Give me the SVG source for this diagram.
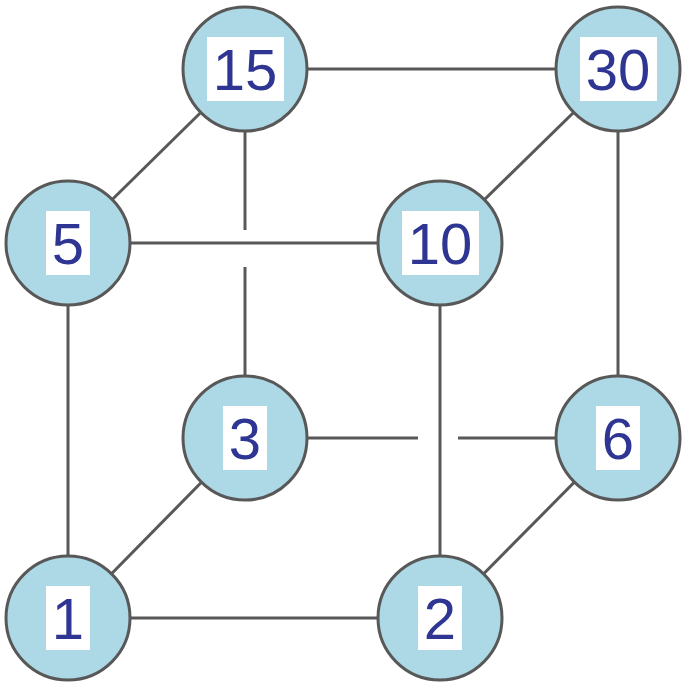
<svg xmlns="http://www.w3.org/2000/svg" width="685" height="685" viewBox="0 0 685 685">
<style>
.e{stroke:#585858;stroke-width:3;fill:none}
.c{fill:#ADD8E6;stroke:#585858;stroke-width:3}
.b{fill:#fff}
.t{font-family:"Liberation Sans",Arial,sans-serif;font-size:58px;fill:#2E3592;text-anchor:middle}
</style>
<rect width="685" height="685" fill="#fff"/>
<g id="edges">
<line class="e" x1="245" y1="69" x2="618" y2="69"/>
<line class="e" x1="68" y1="243" x2="440" y2="243"/>
<line class="e" x1="245" y1="69" x2="68" y2="243"/>
<line class="e" x1="618" y1="69" x2="440" y2="243"/>
<line class="e" x1="618" y1="69" x2="618" y2="435"/>
<line class="e" x1="68" y1="243" x2="68" y2="618"/>
<line class="e" x1="440" y1="243" x2="440" y2="618"/>
<line class="e" x1="245" y1="69" x2="245" y2="230"/>
<line class="e" x1="245" y1="267" x2="245" y2="435"/>
<line class="e" x1="245" y1="438" x2="418" y2="438"/>
<line class="e" x1="458" y1="438" x2="618" y2="438"/>
<line class="e" x1="68" y1="618" x2="440" y2="618"/>
<line class="e" x1="245" y1="438" x2="68" y2="618"/>
<line class="e" x1="618" y1="438" x2="440" y2="618"/>
</g>
<g id="n15"><circle class="c" cx="245" cy="69" r="62"/><rect class="b" x="207" y="37" width="77" height="64"/><text class="t" x="245" y="90">15</text></g>
<g id="n30"><circle class="c" cx="618" cy="69" r="62"/><rect class="b" x="580" y="37" width="77" height="64"/><text class="t" x="618" y="90">30</text></g>
<g id="n5"><circle class="c" cx="68" cy="243" r="62"/><rect class="b" x="46" y="211" width="44" height="64"/><text class="t" x="68" y="264">5</text></g>
<g id="n10"><circle class="c" cx="440" cy="243" r="62"/><rect class="b" x="402" y="211" width="77" height="64"/><text class="t" x="440" y="264">10</text></g>
<g id="n3"><circle class="c" cx="245" cy="438" r="62"/><rect class="b" x="223" y="406" width="44" height="64"/><text class="t" x="245" y="459">3</text></g>
<g id="n6"><circle class="c" cx="618" cy="438" r="62"/><rect class="b" x="596" y="406" width="44" height="64"/><text class="t" x="618" y="459">6</text></g>
<g id="n1"><circle class="c" cx="68" cy="618" r="62"/><rect class="b" x="46" y="586" width="44" height="64"/><text class="t" x="68" y="639">1</text></g>
<g id="n2"><circle class="c" cx="440" cy="618" r="62"/><rect class="b" x="418" y="586" width="44" height="64"/><text class="t" x="440" y="639">2</text></g>
</svg>
